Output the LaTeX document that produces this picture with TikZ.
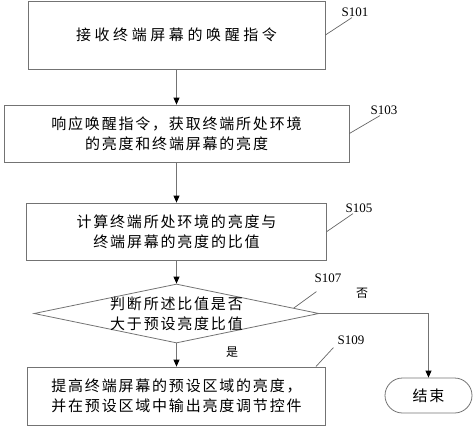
\documentclass[tikz,border=0pt]{standalone}
\usepackage{fontspec}
\setmainfont{Liberation Serif}
\newfontfamily\cjk[LetterSpace=12]{Noto Sans CJK SC}
\usetikzlibrary{shapes.geometric,shapes.misc,arrows.meta,calc}

\tikzset{
  stepbox/.style={draw=black!55, line width=0.8pt, inner sep=0pt, align=center,
    font=\cjk\fontsize{15}{20}\selectfont},
  decision/.style={diamond, draw=black!55, line width=0.8pt, inner sep=0pt,
    minimum width=285pt, minimum height=59pt},
  terminal/.style={rounded rectangle, draw=black!55, line width=0.8pt, inner sep=0pt,
    minimum width=87pt, minimum height=35pt, font=\cjk\fontsize{15}{20}\selectfont},
  steplabel/.style={inner sep=1pt, font=\fontsize{13}{13}\selectfont},
  leader/.style={draw=black!60, line width=0.7pt},
  flow/.style={draw=black!55, line width=0.8pt, -{Triangle[width=6pt,length=7pt,black]}},
  answer/.style={inner sep=1pt, font=\cjk\fontsize{12}{12}\selectfont}
}

\begin{document}
\begin{tikzpicture}[x=1pt,y=-1pt]
\useasboundingbox (0,0) rectangle (474,428);

% steps
\node[stepbox, minimum width=297pt, minimum height=68pt] (s101) at (176.5,35)
  {\addfontfeature{LetterSpace=24}接收终端屏幕的唤醒指令};
\node[stepbox, minimum width=345pt, minimum height=57pt] (s103) at (176.5,133.5)
  {响应唤醒指令，获取终端所处环境\\的亮度和终端屏幕的亮度};
\node[stepbox, minimum width=300pt, minimum height=57pt] (s105) at (176.5,231.5)
  {计算终端所处环境的亮度与\\终端屏幕的亮度的比值};
\node[decision] (s107) at (176.5,313.5) {};
\node[stepbox, draw=none] (q107) at (s107) {判断所述比值是否\\大于预设亮度比值};
\node[stepbox, minimum width=298pt, minimum height=58pt] (s109) at (176.5,396)
  {提高终端屏幕的预设区域的亮度，\\并在预设区域中输出亮度调节控件};
\node[terminal] (stop) at (428.5,395.5) {结束};

% step numbers
\node[steplabel] (lbl101) at (355,12) {S101};
\node[steplabel] (lbl103) at (384,110) {S103};
\node[steplabel] (lbl105) at (359,208) {S105};
\node[steplabel] (lbl107) at (328,278) {S107};
\node[steplabel] (lbl109) at (351,340) {S109};
\draw[leader] (s101.east) -- ($(lbl101.south)+(-3,0)$);
\draw[leader] (s103.east) -- ($(lbl103.south)+(-4,0)$);
\draw[leader] (s105.east) -- ($(lbl105.south)+(-6,0)$);
\draw[leader] ($(s107.north)!0.82!(s107.east)$) -- ($(lbl107.south west)+(3,8)$);
\draw[leader] ($(s109.north east)+(-10,0)$) -- ($(lbl109.south west)+(-3,2)$);

% flow
\draw[flow] (s101.south) -- (s103.north);
\draw[flow] (s103.south) -- (s105.north);
\draw[flow] (s105.south) -- (s107.north);
\draw[flow] (s107.south) -- (s109.north);
\draw[flow] (s107.east) -| (stop.north);
\node[answer] (yes) at (232,352) {是};
\node[answer] (no) at (362,293) {否};
\end{tikzpicture}
\end{document}
